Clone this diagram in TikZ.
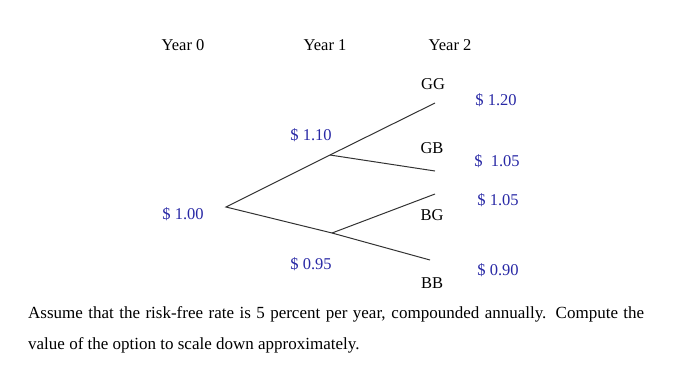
\documentclass[tikz,border=0pt]{standalone}
\usepackage{fontspec}
\setmainfont{Liberation Serif}
\definecolor{valblue}{RGB}{40,40,165}
\definecolor{linegray}{RGB}{50,50,50}
\begin{document}
\begin{tikzpicture}[x=1pt,y=-1pt,
  lbl/.style={font=\fontsize{16.5}{19}\selectfont, inner sep=0pt, anchor=center},
  val/.style={lbl, text=valblue},
  branch/.style={draw=linegray, line width=1pt}]
\useasboundingbox (0,0) rectangle (700,373);
\node[lbl] (y0) at (183,45) {Year 0};
\node[lbl] (y1) at (325,45) {Year 1};
\node[lbl] (y2) at (450,45) {Year 2};
\node[lbl] (gg) at (433,84) {GG};
\node[lbl] (gb) at (432,148) {GB};
\node[lbl] (bg) at (432,215) {BG};
\node[lbl] (bb) at (432,283) {BB};
\node[val] (v120) at (496,100) {\$ 1.20};
\node[val] (v110) at (311,135) {\$ 1.10};
\node[val] (v105a) at (497,161) {\$~~1.05};
\node[val] (v105b) at (498,200) {\$ 1.05};
\node[val] (v100) at (183,214) {\$ 1.00};
\node[val] (v095) at (311,264) {\$ 0.95};
\node[val] (v090) at (498,270) {\$ 0.90};
\coordinate (r) at (226,207);
\coordinate (u) at (330,155);
\coordinate (d) at (332,233);
\coordinate (egg) at (435,103);
\coordinate (egb) at (435,171);
\coordinate (ebg) at (435,194);
\coordinate (ebb) at (430,260);
\draw[branch] (egg) -- (u) -- (r) -- (d) -- (ebb);
\draw[branch] (u) -- (egb);
\draw[branch] (d) -- (ebg);
\node[anchor=north west, inner sep=0pt, text width=616, align=justify,
  font=\fontsize{17}{31}\selectfont] (q) at (28,306)
  {Assume that the risk-free rate is 5 percent per year, compounded annually. Compute the value of the option to scale down approximately.};
\end{tikzpicture}
\end{document}
